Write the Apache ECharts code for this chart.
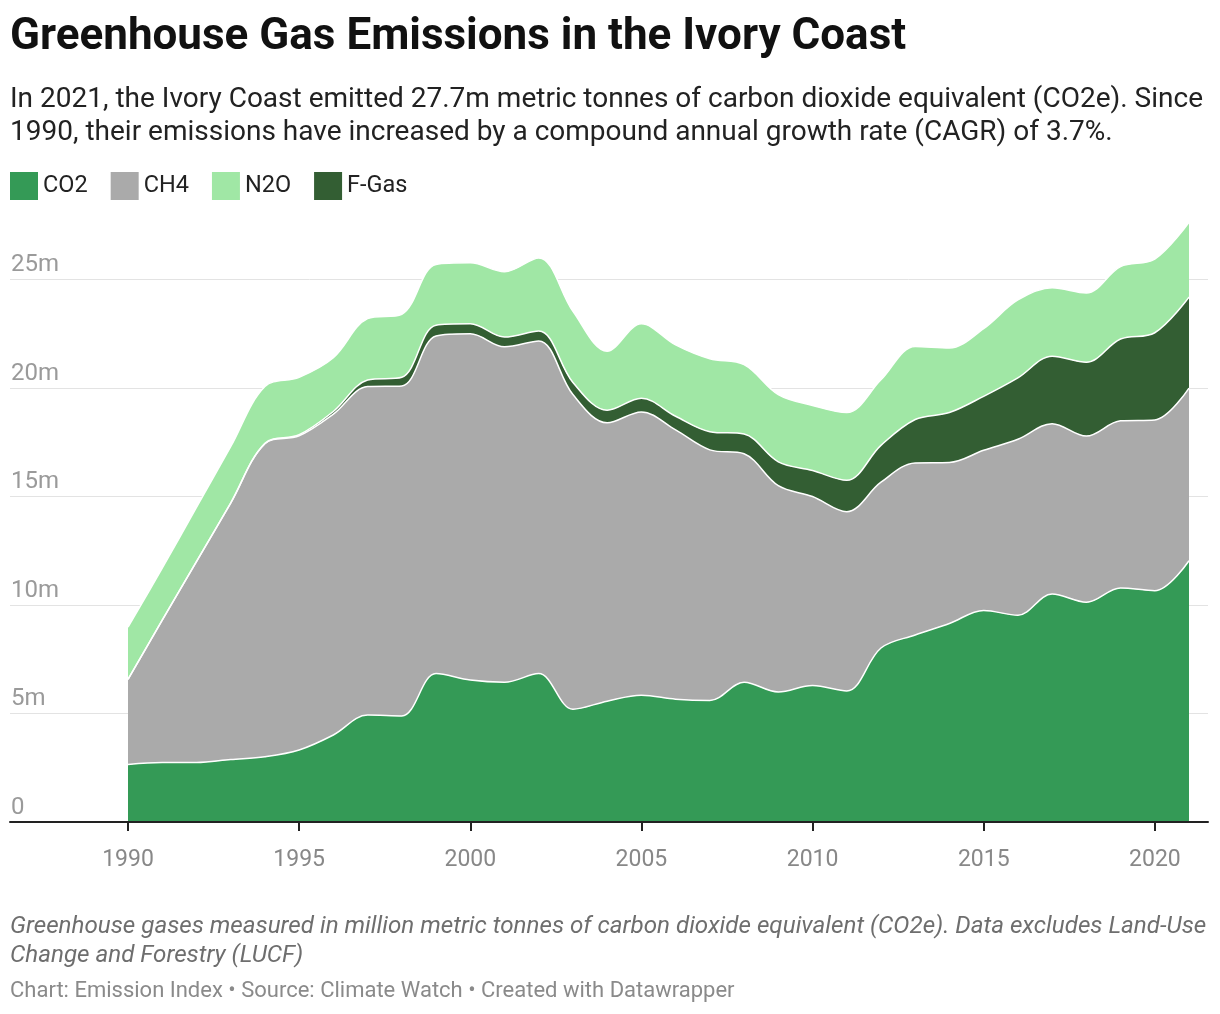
<!DOCTYPE html>
<html>
<head>
<meta charset="utf-8">
<script src="https://cdn.jsdelivr.net/npm/echarts@6/dist/echarts.min.js"></script>
<style>
html,body{margin:0;padding:0;background:#fff;}
#chart{width:1220px;height:1014px;}
</style>
</head>
<body>
<div id="chart"></div>
<script>
const years = [1990,1991,1992,1993,1994,1995,1996,1997,1998,1999,2000,2001,2002,2003,2004,2005,2006,2007,2008,2009,2010,2011,2012,2013,2014,2015,2016,2017,2018,2019,2020,2021];
const co2  = [2.65,2.74,2.74,2.88,3.01,3.32,4.01,4.93,4.89,6.84,6.54,6.44,6.84,5.20,5.57,5.84,5.66,5.60,6.44,5.99,6.29,6.04,8.02,8.62,9.15,9.75,9.53,10.51,10.13,10.79,10.66,12.04];
const ch4  = [3.92,6.56,9.26,11.82,14.42,14.48,14.79,15.14,15.21,15.56,15.96,15.46,15.33,14.50,12.83,13.06,12.41,11.55,10.53,9.51,8.71,8.26,7.64,7.93,7.42,7.38,8.11,7.85,7.66,7.70,7.87,7.96];
const fgas = [0,0,0,0,0.02,0.05,0.12,0.30,0.40,0.50,0.46,0.45,0.46,0.56,0.58,0.63,0.63,0.84,0.91,1.10,1.20,1.45,1.70,2.00,2.30,2.49,2.83,3.11,3.40,3.77,4.02,4.19];
const n2o  = [2.41,2.40,2.50,2.60,2.62,2.65,2.48,2.83,2.90,2.80,2.81,3.01,3.37,3.28,2.72,3.43,3.29,3.36,3.20,3.10,3.00,3.12,3.02,3.37,2.98,3.12,3.59,3.15,3.19,3.34,3.39,3.45];
const xTicks = [1990,1995,2000,2005,2010,2015,2020];
const legendOrder = ['CO2','CH4','N2O','F-Gas'];

const FONT = 'Roboto, "Noto Sans", sans-serif';
const colors = {'CO2':'#349a56','CH4':'#aaaaaa','N2O':'#a0e7a5','F-Gas':'#335e33'};
const Y_MAX = 27.7;

function mk(name, arr){
  return {
    name, type:'line', stack:'total', data:arr,
    xAxisIndex:1, yAxisIndex:1,
    smooth:0.35, showSymbol:false, symbol:'none',
    lineStyle:{color:'#ffffff', width:1.5},
    itemStyle:{color:colors[name]},
    areaStyle:{color:colors[name], opacity:1},
    emphasis:{disabled:true}
  };
}

const chart = echarts.init(document.getElementById('chart'), null, {renderer:'canvas'});
chart.setOption({
  animation:false,
  backgroundColor:'#ffffff',
  textStyle:{fontFamily:FONT},
  graphic:[
    {type:'text', left:10, top:16, style:{text:'Greenhouse Gas Emissions in the Ivory Coast', fontFamily:FONT, fontWeight:'bold', fontSize:44, lineHeight:44, fill:'#111'}},
    {type:'text', left:10, top:83, style:{text:'In 2021, the Ivory Coast emitted 27.7m metric tonnes of carbon dioxide equivalent (CO2e). Since\n1990, their emissions have increased by a compound annual growth rate (CAGR) of 3.7%.', fontFamily:FONT, fontSize:28, lineHeight:33, fill:'#222'}},
    {type:'text', left:10, top:913, style:{text:'Greenhouse gases measured in million metric tonnes of carbon dioxide equivalent (CO2e). Data excludes Land-Use\nChange and Forestry (LUCF)', fontFamily:FONT, fontStyle:'italic', fontSize:24.2, lineHeight:28.5, fill:'#6e6e6e'}},
    {type:'text', left:10, top:980, style:{text:'Chart: Emission Index \u2022 Source: Climate Watch \u2022 Created with Datawrapper', fontFamily:FONT, fontSize:22, lineHeight:22, fill:'#8a8a8a'}}
  ],
  legend:{
    data:legendOrder, left:10, top:172, padding:0, icon:'rect', itemWidth:28, itemHeight:28, itemGap:23,
    textStyle:{fontFamily:FONT, fontSize:23.5, color:'#222'}, selectedMode:false
  },
  grid:[
    {left:10, right:12, top:221, bottom:192, containLabel:false},
    {left:128, right:31, top:221, bottom:192, containLabel:false}
  ],
  xAxis:[
    {
      gridIndex:0, type:'value', min:1986.552, max:2021.552, z:5,
      axisLine:{show:true, onZero:false, lineStyle:{color:'#222', width:2}},
      axisTick:{show:true, length:9, lineStyle:{color:'#222', width:2}, customValues:xTicks},
      axisLabel:{customValues:xTicks, fontFamily:FONT, fontSize:23, color:'#888', margin:27, formatter:v=>String(v)},
      splitLine:{show:false}
    },
    {
      gridIndex:1, type:'category', data:years, boundaryGap:false, show:false
    }
  ],
  yAxis:[
    {
      gridIndex:0, type:'value', min:0, max:Y_MAX, interval:5,
      axisLine:{show:false}, axisTick:{show:false},
      splitLine:{show:true, showMaxLine:false, lineStyle:{color:'#e3e3e3', width:1}},
      axisLabel:{inside:true, margin:1, showMaxLabel:false, verticalAlign:'bottom', lineHeight:29,
        fontFamily:FONT, fontSize:24, color:'#9a9a9a',
        formatter:v=> (Math.abs(v%5)>1e-6 ? '' : (v===0 ? '0' : v+'m'))}
    },
    {
      gridIndex:1, type:'value', min:0, max:Y_MAX, show:false, splitLine:{show:false}
    }
  ],
  series:[mk('CO2',co2), mk('CH4',ch4), mk('F-Gas',fgas), mk('N2O',n2o)]
});
</script>
</body>
</html>
